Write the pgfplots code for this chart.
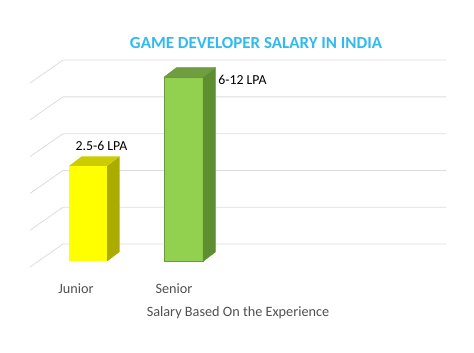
\documentclass[border=0pt]{standalone}
\usepackage{pgfplots}
\pgfplotsset{compat=1.18}
\usepackage{fontspec}
\setmainfont{Carlito}
\definecolor{titleblue}{HTML}{30BAF0}
\definecolor{gridgray}{HTML}{DDDDDD}
\definecolor{axtext}{HTML}{505050}
\definecolor{yfront}{HTML}{FFFF00}
\definecolor{yside}{HTML}{ABAB00}
\definecolor{ytop}{HTML}{CCCC00}
\definecolor{gfront}{HTML}{92D050}
\definecolor{gside}{HTML}{5E8E32}
\definecolor{gtop}{HTML}{6E9E40}
\definecolor{gedge}{HTML}{6A9A3C}
\begin{document}
\begin{tikzpicture}
\begin{axis}[
  width=474bp, height=353bp, scale only axis,
  xmin=0, xmax=474, ymin=-5.97, ymax=17.06,
  axis lines=none, clip=false,
  ticks=none,
]
\path (rel axis cs:0,0) rectangle (rel axis cs:1,1);
% back wall gridlines (step 2.4) and floor diagonals
\foreach \k in {0,...,5} {
  \edef\tmp{\noexpand\addplot[gridgray, line width=0.8pt, forget plot] coordinates {(30,{\k*2.4-0.36}) (63,{\k*2.4+1.14}) (446,{\k*2.4+1.14})};}
  \tmp
}
% Junior bar (value 6.23)
\addplot[fill=yfront, draw=none] coordinates {(69,0) (107,0) (107,6.23) (69,6.23)};
\addplot[fill=yside, draw=none] coordinates {(107,0) (119.5,0.62) (119.5,6.85) (107,6.23)};
\addplot[fill=ytop, draw=none] coordinates {(69,6.23) (81.5,6.85) (119.5,6.85) (107,6.23)};
% Senior bar (value 12.03)
\addplot[fill=gfront, draw=gedge, line width=0.4pt] coordinates {(164,0) (203,0) (203,12.03) (164,12.03) (164,0)};
\addplot[fill=gside, draw=gedge, line width=0.4pt] coordinates {(203,0) (215.5,0.62) (215.5,12.65) (203,12.03) (203,0)};
\addplot[fill=gtop, draw=gedge, line width=0.4pt] coordinates {(164,12.03) (176.5,12.65) (215.5,12.65) (203,12.03) (164,12.03)};
% labels
\node[font=\fontsize{17}{19}\selectfont\bfseries, text=titleblue] at (axis cs:256,14.25) {GAME DEVELOPER SALARY IN INDIA};
\node[font=\fontsize{13.8}{15}\selectfont] at (axis cs:101.5,7.53) {2.5-6 LPA};
\node[font=\fontsize{13.8}{15}\selectfont] at (axis cs:242.5,11.84) {6-12 LPA};
\node[font=\fontsize{14.3}{16}\selectfont, text=axtext] at (axis cs:76,-1.79) {Junior};
\node[font=\fontsize{14.3}{16}\selectfont, text=axtext] at (axis cs:174,-1.79) {Senior};
\node[font=\fontsize{14.3}{16}\selectfont, text=axtext] at (axis cs:238,-3.36) {Salary Based On the Experience};
\end{axis}
\end{tikzpicture}
\end{document}
